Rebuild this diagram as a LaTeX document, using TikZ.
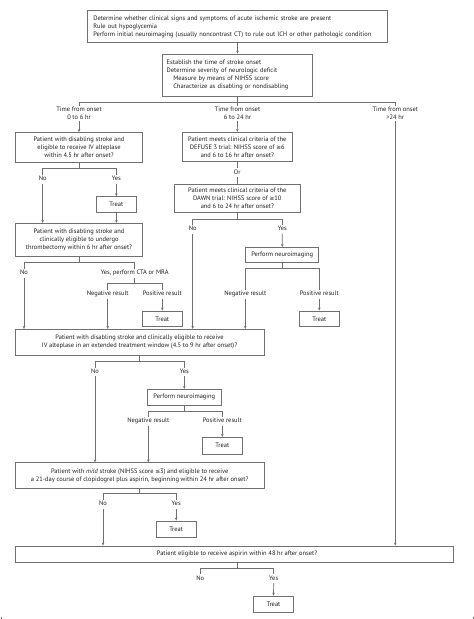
\documentclass[tikz,border=0pt]{standalone}
\usepackage{fontspec}
\setmainfont{PT Sans}
\newfontfamily\symfont{DejaVu Sans}
\usetikzlibrary{arrows.meta}
\definecolor{ln}{HTML}{707070}
\definecolor{tx}{HTML}{1E1E1E}
\newcommand{\gesym}{{\symfont\fontsize{5.8}{8}\selectfont ≥}}
\newcommand{\lesym}{{\symfont\fontsize{5.8}{8}\selectfont ≤}}
\begin{document}
\begin{tikzpicture}[x=1pt,y=-1pt,
  font=\fontsize{6.45}{8}\selectfont, color=ln, text=tx, line width=0.7pt,
  box/.style={draw=ln, line width=0.8pt, inner sep=0pt, align=center},
  lbltwo/.style={inner sep=1pt, align=center},
  lbl/.style={inner sep=1pt, align=center, text height=4.7pt, text depth=1.4pt},
  treat/.style={box, minimum width=40pt, minimum height=16pt},
  arr/.style={-{Stealth[length=3pt,width=2.6pt]}}]
\useasboundingbox (0,0) rectangle (474,619);

% main boxes
\node[box, minimum width=299.6pt, minimum height=32pt, inner xsep=5.6pt, text width=288.4pt, align=left] (B1) at (237.5,26.7)
  {Determine whether clinical signs and symptoms of acute ischemic stroke are present\\Rule out hypoglycemia\\Perform initial neuroimaging (usually noncontrast CT) to rule out ICH or other pathologic condition};
\node[box, minimum width=149.6pt, minimum height=42pt, inner xsep=4pt, text width=141.6pt, align=left] (B2) at (237.5,75)
  {Establish the time of stroke onset\\Determine severity of neurologic deficit\\\hspace*{6.6pt}Measure by means of NIHSS score\\\hspace*{6.6pt}Characterize as disabling or nondisabling};

\node[lbltwo] (L0) at (79,113.3) {Time from onset\\0 to 6 hr};
\node[lbltwo] (L1) at (237.5,113.3) {Time from onset\\6 to 24 hr};
\node[lbltwo] (L2) at (395.3,113.3) {Time from onset\\>24 hr};

\node[box, minimum width=126.6pt, minimum height=30pt] (B3) at (79,147.5)
  {Patient with disabling stroke and\\eligible to receive IV alteplase\\within 4.5 hr after onset?};
\node[box, minimum width=110pt, minimum height=29.4pt] (B4) at (237.3,147)
  {Patient meets clinical criteria of the\\DEFUSE 3 trial: NIHSS score of \gesym6\\and 6 to 16 hr after onset?};
\node[lbl] (Or) at (237.3,172.7) {Or};
\node[box, minimum width=126.7pt, minimum height=28.3pt] (DAWN) at (237.3,198.2)
  {Patient meets clinical criteria of the\\DAWN trial: NIHSS score of \gesym10\\and 6 to 24 hr after onset?};

% left column, first question
\node[lbl] (N1) at (42.7,179.3) {No};
\node[lbl] (Y1) at (116.3,179.3) {Yes};
\node[treat, minimum height=15.6pt] (T1) at (116.3,204.5) {Treat};
\node[box, minimum width=126.6pt, minimum height=32.7pt] (B5) at (79,239.7)
  {Patient with disabling stroke and\\clinically eligible to undergo\\thrombectomy within 6 hr after onset?};
\node[lbl] (N2) at (24,273.3) {No};
\node[lbl] (Y2) at (134.7,273.3) {Yes, perform CTA or MRA};
\node[lbl] (NR2) at (107.7,294.3) {Negative result};
\node[lbl] (PR2) at (162.3,294.3) {Positive result};
\node[treat, minimum height=15.7pt] (T2) at (162.3,318.8) {Treat};

% DAWN branch
\node[lbl] (N3) at (192.7,229.3) {No};
\node[lbl] (Y3) at (282.3,229.3) {Yes};
\node[box, minimum width=73pt, minimum height=15pt] (NI1) at (282.2,254.8) {Perform neuroimaging};
\node[lbl] (NR3) at (245.3,294.3) {Negative result};
\node[lbl] (PR3) at (319.3,294.3) {Positive result};
\node[treat, minimum height=15.7pt] (T3) at (319.3,318.8) {Treat};

% extended window
\node[box, minimum width=249pt, minimum height=26pt] (B6) at (139.5,342.3)
  {Patient with disabling stroke and clinically eligible to receive\\IV alteplase in an extended treatment window (4.5 to 9 hr after onset)?};
\node[lbl] (N4) at (95,372) {No};
\node[lbl] (Y4) at (184.3,372) {Yes};
\node[box, minimum width=73.3pt, minimum height=16pt] (NI2) at (184.3,397.3) {Perform neuroimaging};
\node[lbl] (NR4) at (148.3,421.3) {Negative result};
\node[lbl] (PR4) at (222.3,421.3) {Positive result};
\node[treat, minimum height=16.7pt] (T4) at (222.3,445.7) {Treat};

% mild stroke
\node[box, minimum width=249.3pt, minimum height=26pt] (B7) at (139.7,475.7)
  {Patient with \textit{mild} stroke (NIHSS score \lesym3) and eligible to receive\\a 21-day course of clopidogrel plus aspirin, beginning within 24 hr after onset?};
\node[lbl] (N5) at (103,504.3) {No};
\node[lbl] (Y5) at (176.2,504.3) {Yes};
\node[treat, minimum height=16.7pt] (T5) at (176.2,529.3) {Treat};

% aspirin
\node[box, minimum width=438pt, minimum height=16.7pt] (B8) at (234,554.3)
  {\hspace*{6pt}Patient eligible to receive aspirin within 48 hr after onset?};
\node[lbl] (N6) at (200.3,578.7) {No};
\node[lbl] (Y6) at (273.7,578.7) {Yes};
\node[treat, minimum height=16pt] (T6) at (273.5,604) {Treat};

% connectors
\draw[arr] (B1.south) -- (B2.north);
\draw (B2.south) -- ++(0,5.7) coordinate (j0);
\draw (L0.north) |- (j0) -| (L2.north);
\draw (L1.north) -- (j0);
\draw[arr] (L0.south) -- (B3.north);
\draw[arr] (L1.south) -- (B4.north);
\draw[arr] (L2.south) -- (L2.south |- B8.north);

\draw (B3.south) -- ++(0,5.7) coordinate (j1);
\draw (N1.north) |- (j1) -| (Y1.north);
\draw[arr] (Y1.south) -- (T1.north);
\draw[arr] (T1.south) -- (T1.south |- B5.north);
\draw[arr] (N1.south) -- (N1.south |- B5.north);

\draw (B4.south) -- (Or.north);
\draw (Or.south) -- (DAWN.north);
\draw (DAWN.south) -- ++(0,7) coordinate (j2);
\draw (N3.north) |- (j2) -| (Y3.north);
\draw[arr] (Y3.south) -- (NI1.north);
\draw (NI1.south) -- ++(0,6) coordinate (j3);
\draw (NR3.north) |- (j3) -| (PR3.north);
\draw[arr] (PR3.south) -- (T3.north);
\draw[arr] (N3.south) -- (N3.south |- B6.north);
\draw[arr] (NR3.south) -- (NR3.south |- B6.north);

\draw (B5.south) -- ++(0,6.3) coordinate (j4);
\draw (N2.north) |- (j4) -| (Y2.north);
\draw (Y2.south) -- ++(0,6) coordinate (j5);
\draw (NR2.north) |- (j5) -| (PR2.north);
\draw[arr] (PR2.south) -- (T2.north);
\draw[arr] (NR2.south) -- (NR2.south |- B6.north);
\draw[arr] (N2.south) -- (N2.south |- B6.north);

\draw (B6.south) -- ++(0,5.7) coordinate (j6);
\draw (N4.north) |- (j6) -| (Y4.north);
\draw[arr] (Y4.south) -- (NI2.north);
\draw (NI2.south) -- ++(0,5.4) coordinate (j7);
\draw (NR4.north) |- (j7) -| (PR4.north);
\draw[arr] (PR4.south) -- (T4.north);
\draw[arr] (N4.south) -- (N4.south |- B7.north);
\draw[arr] (NR4.south) -- (NR4.south |- B7.north);

\draw (B7.south) -- ++(0,4.6) coordinate (j8);
\draw (N5.north) |- (j8) -| (Y5.north);
\draw[arr] (Y5.south) -- (T5.north);
\draw[arr] (N5.south) -- (N5.south |- B8.north);

\draw (B8.south -| L1) -- ++(0,5) coordinate (j9);
\draw (N6.north) |- (j9) -| (Y6.north);
\draw[arr] (Y6.south) -- (T6.north);

% edge marks
\draw (1,616.5) -- (1,619);
\draw (473,616.5) -- (473,619);
\end{tikzpicture}
\end{document}
